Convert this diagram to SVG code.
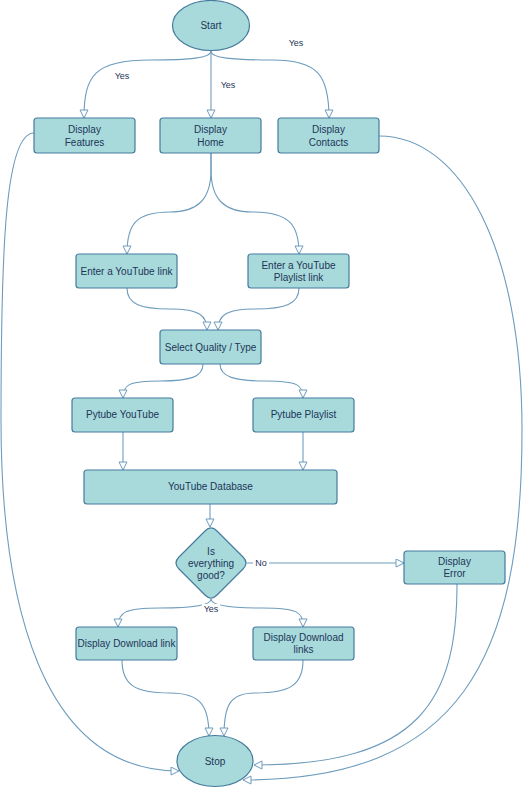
<svg xmlns="http://www.w3.org/2000/svg" width="526" height="788" viewBox="0 0 526 788">
<style>
.n{fill:#A8DADC;stroke:#457B9D;stroke-width:1.2}
.t{font-family:"Liberation Sans",Arial,sans-serif;font-size:10px;fill:#1D3557;text-anchor:middle}
.l{font-family:"Liberation Sans",Arial,sans-serif;font-size:9px;fill:#1D3557;text-anchor:middle}
.e{fill:none;stroke:#6E9CBD;stroke-width:1.1}
</style>
<defs>
<marker id="a" markerUnits="userSpaceOnUse" markerWidth="10" markerHeight="10" refX="9" refY="4.5" orient="auto">
<path d="M1,0.5 L9,4.5 L1,8.5 Z" fill="#fff" stroke="#6E9CBD" stroke-width="1"/>
</marker>
</defs>
<rect width="526" height="788" fill="#fff"/>
<g id="connectors" marker-end="url(#a)">
<path class="e" d="M211,51 C211,58 190,60 150,60 C95,60 84,75 84,118"/>
<path class="e" d="M211,51 L211,118"/>
<path class="e" d="M211,51 C211,58 232,60 272,60 C318,60 329,75 329,118"/>
<path class="e" d="M211,153 L211,170 C211,200 197,212 170,212 C135,212 127,225 127,254"/>
<path class="e" d="M211,153 L211,170 C211,200 225,212 252,212 C290,212 299,225 299,254"/>
<path class="e" d="M127,288 C127,304 140,309 170,309 C200,309 207,316 207,330"/>
<path class="e" d="M299,288 C299,304 285,309 255,309 C225,309 218,316 218,330"/>
<path class="e" d="M203,364 C203,377 190,381 160,381 C128,381 123,385 123,398"/>
<path class="e" d="M220,364 C220,377 235,381 265,381 C298,381 303,385 303,398"/>
<path class="e" d="M123,432 L123,470"/>
<path class="e" d="M303,432 L303,470"/>
<path class="e" d="M210,504 L210,527"/>
<path class="e" d="M247,563 L404,563"/>
<path class="e" d="M211,599 C211,606 190,608 160,608 C125,608 118,612 118,627"/>
<path class="e" d="M211,599 C211,606 232,608 262,608 C298,608 303,612 303,627"/>
<path class="e" d="M122,660 C122,685 135,693 170,693 C200,693 209,705 209,736"/>
<path class="e" d="M303,660 C303,685 290,693 255,693 C230,693 224,705 224,736"/>
<path class="e" d="M34,133 C5,133 1,250 1,420 C1,600 40,771 179,771"/>
<path class="e" d="M457,584 C457,700 420,765 254,765"/>
<path class="e" d="M379,136 C462,136 522,250 522,430 C522,660 460,780 243,780"/>
</g>
<g id="edge-labels">
<text class="l" x="122" y="79">Yes</text>
<text class="l" x="228" y="88">Yes</text>
<text class="l" x="296" y="46">Yes</text>
<rect x="253" y="557" width="16" height="11" fill="#fff"/>
<text class="l" x="261" y="566">No</text>
<rect x="202" y="604" width="18" height="11" fill="#fff"/>
<text class="l" x="211" y="612">Yes</text>
</g>
<g id="start"><ellipse class="n" cx="211" cy="25.5" rx="38.5" ry="25"/><text class="t" x="211" y="29">Start</text></g>
<g id="display-features"><rect class="n" x="34" y="118" width="101" height="35" rx="3"/><text class="t" x="84.5" y="133">Display</text><text class="t" x="84.5" y="146">Features</text></g>
<g id="display-home"><rect class="n" x="160" y="118" width="101" height="35" rx="3"/><text class="t" x="210.5" y="133">Display</text><text class="t" x="210.5" y="146">Home</text></g>
<g id="display-contacts"><rect class="n" x="278" y="118" width="101" height="35" rx="3"/><text class="t" x="328.5" y="133">Display</text><text class="t" x="328.5" y="146">Contacts</text></g>
<g id="enter-link"><rect class="n" x="76" y="254" width="101" height="34" rx="3"/><text class="t" x="126.5" y="274.5">Enter a YouTube link</text></g>
<g id="enter-playlist"><rect class="n" x="248" y="254" width="101" height="34" rx="3"/><text class="t" x="298.5" y="268.5">Enter a YouTube</text><text class="t" x="298.5" y="281">Playlist link</text></g>
<g id="select-quality"><rect class="n" x="160" y="330" width="101" height="34" rx="3"/><text class="t" x="210.5" y="350.5">Select Quality / Type</text></g>
<g id="pytube-youtube"><rect class="n" x="72" y="398" width="101" height="34" rx="3"/><text class="t" x="122.5" y="418">Pytube YouTube</text></g>
<g id="pytube-playlist"><rect class="n" x="253" y="398" width="101" height="34" rx="3"/><text class="t" x="303.5" y="418">Pytube Playlist</text></g>
<g id="youtube-database"><rect class="n" x="84" y="470" width="253" height="34" rx="3"/><text class="t" x="210.5" y="490">YouTube Database</text></g>
<g id="decision"><path class="n" d="M205,531 Q211,525 217,531 L243,557 Q249,563 243,569 L217,595 Q211,601 205,595 L179,569 Q173,563 179,557 Z"/><text class="t" x="211" y="555">Is</text><text class="t" x="211" y="567">everything</text><text class="t" x="211" y="579">good?</text></g>
<g id="display-error"><rect class="n" x="404" y="551" width="101" height="33" rx="3"/><text class="t" x="454.5" y="564.5">Display</text><text class="t" x="454.5" y="577">Error</text></g>
<g id="download-link"><rect class="n" x="76" y="627" width="101" height="33" rx="3"/><text class="t" x="126.5" y="647">Display Download link</text></g>
<g id="download-links"><rect class="n" x="253" y="627" width="101" height="33" rx="3"/><text class="t" x="303.5" y="640.5">Display Download</text><text class="t" x="303.5" y="653">links</text></g>
<g id="stop"><ellipse class="n" cx="215" cy="761" rx="38" ry="25.5"/><text class="t" x="215" y="764.5">Stop</text></g>
</svg>
